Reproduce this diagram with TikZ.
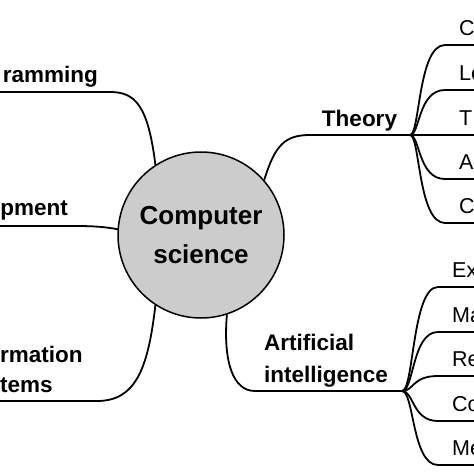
\documentclass[tikz,border=0pt]{standalone}
\usepackage{fontspec}
\setmainfont{Liberation Sans}
\definecolor{corefill}{gray}{0.8}
\begin{document}
\begin{tikzpicture}[x=1pt,y=-1pt,
  conn/.style={line width=1.8pt, line cap=round},
  hub/.style={font=\bfseries\fontsize{22.5}{31}\selectfont, inner sep=0pt},
  leaf/.style={font=\fontsize{21.5}{25}\selectfont, inner sep=0pt, anchor=base west},
  core/.style={circle, draw, line width=1.5pt, fill=corefill, minimum size=166pt, inner sep=0pt, align=center, font=\bfseries\fontsize{26}{39}\selectfont}]
\useasboundingbox (0,0) rectangle (474,474);
\clip (0,0) rectangle (474,474);
% central node
\node[core] (cs) at (201,235) {Computer\\science};
% branch labels
\node[hub, anchor=base east] (prog) at (98,82) {ramming};
\node[hub, anchor=base east] (dev) at (68,215) {pment};
\node[hub, anchor=base west, align=left, font=\bfseries\fontsize{22.5}{30}\selectfont] (info) at (0,392) {rmation\\tems};
\node[hub, anchor=base] (th) at (359.5,126) {Theory};
\node[hub, anchor=base west, align=left, font=\bfseries\fontsize{22.5}{32}\selectfont] (ai) at (264,382) {Artificial\\intelligence};
% free ends and hubs
\coordinate (progend) at (-2,92);
\coordinate (devend) at (-2,226);
\coordinate (infoend) at (-2,401);
\coordinate (thh) at (410,135);
\coordinate (aih) at (402,391);
% main connectors
\draw[conn] (cs.123) .. controls (148,105) and (135,92) .. (110,92) -- (progend);
\draw[conn] (cs.176) .. controls (105,227) and (95,226) .. (75,226) -- (devend);
\draw[conn] (cs.237) .. controls (148,370) and (135,401) .. (97,401) -- (infoend);
\draw[conn] (cs.41.7) .. controls (275,145) and (285,135) .. (310,135) -- (thh);
\draw[conn] (cs.288.2) .. controls (223,362) and (233,391) .. (255,391) -- (aih);
% theory leaves
\foreach \y/\t [count=\i] in {45/C,90/Le,135/T,179/A,223/C}{
  \coordinate (te\i) at (476,\y);
  \node[leaf] (t\i) at (459,\y-9.5) {\t};
  \draw[conn] (thh) .. controls +(10,0) and (418,\y) .. (445,\y) -- (te\i);
}
% AI leaves
\foreach \y/\t [count=\i] in {287/Ex,332/Ma,376/Re,421/Co,465/Me}{
  \coordinate (ae\i) at (476,\y);
  \node[leaf] (a\i) at (452,\y-9.5) {\t};
  \draw[conn] (aih) .. controls +(12,0) and (412,\y) .. (438,\y) -- (ae\i);
}
\end{tikzpicture}
\end{document}
